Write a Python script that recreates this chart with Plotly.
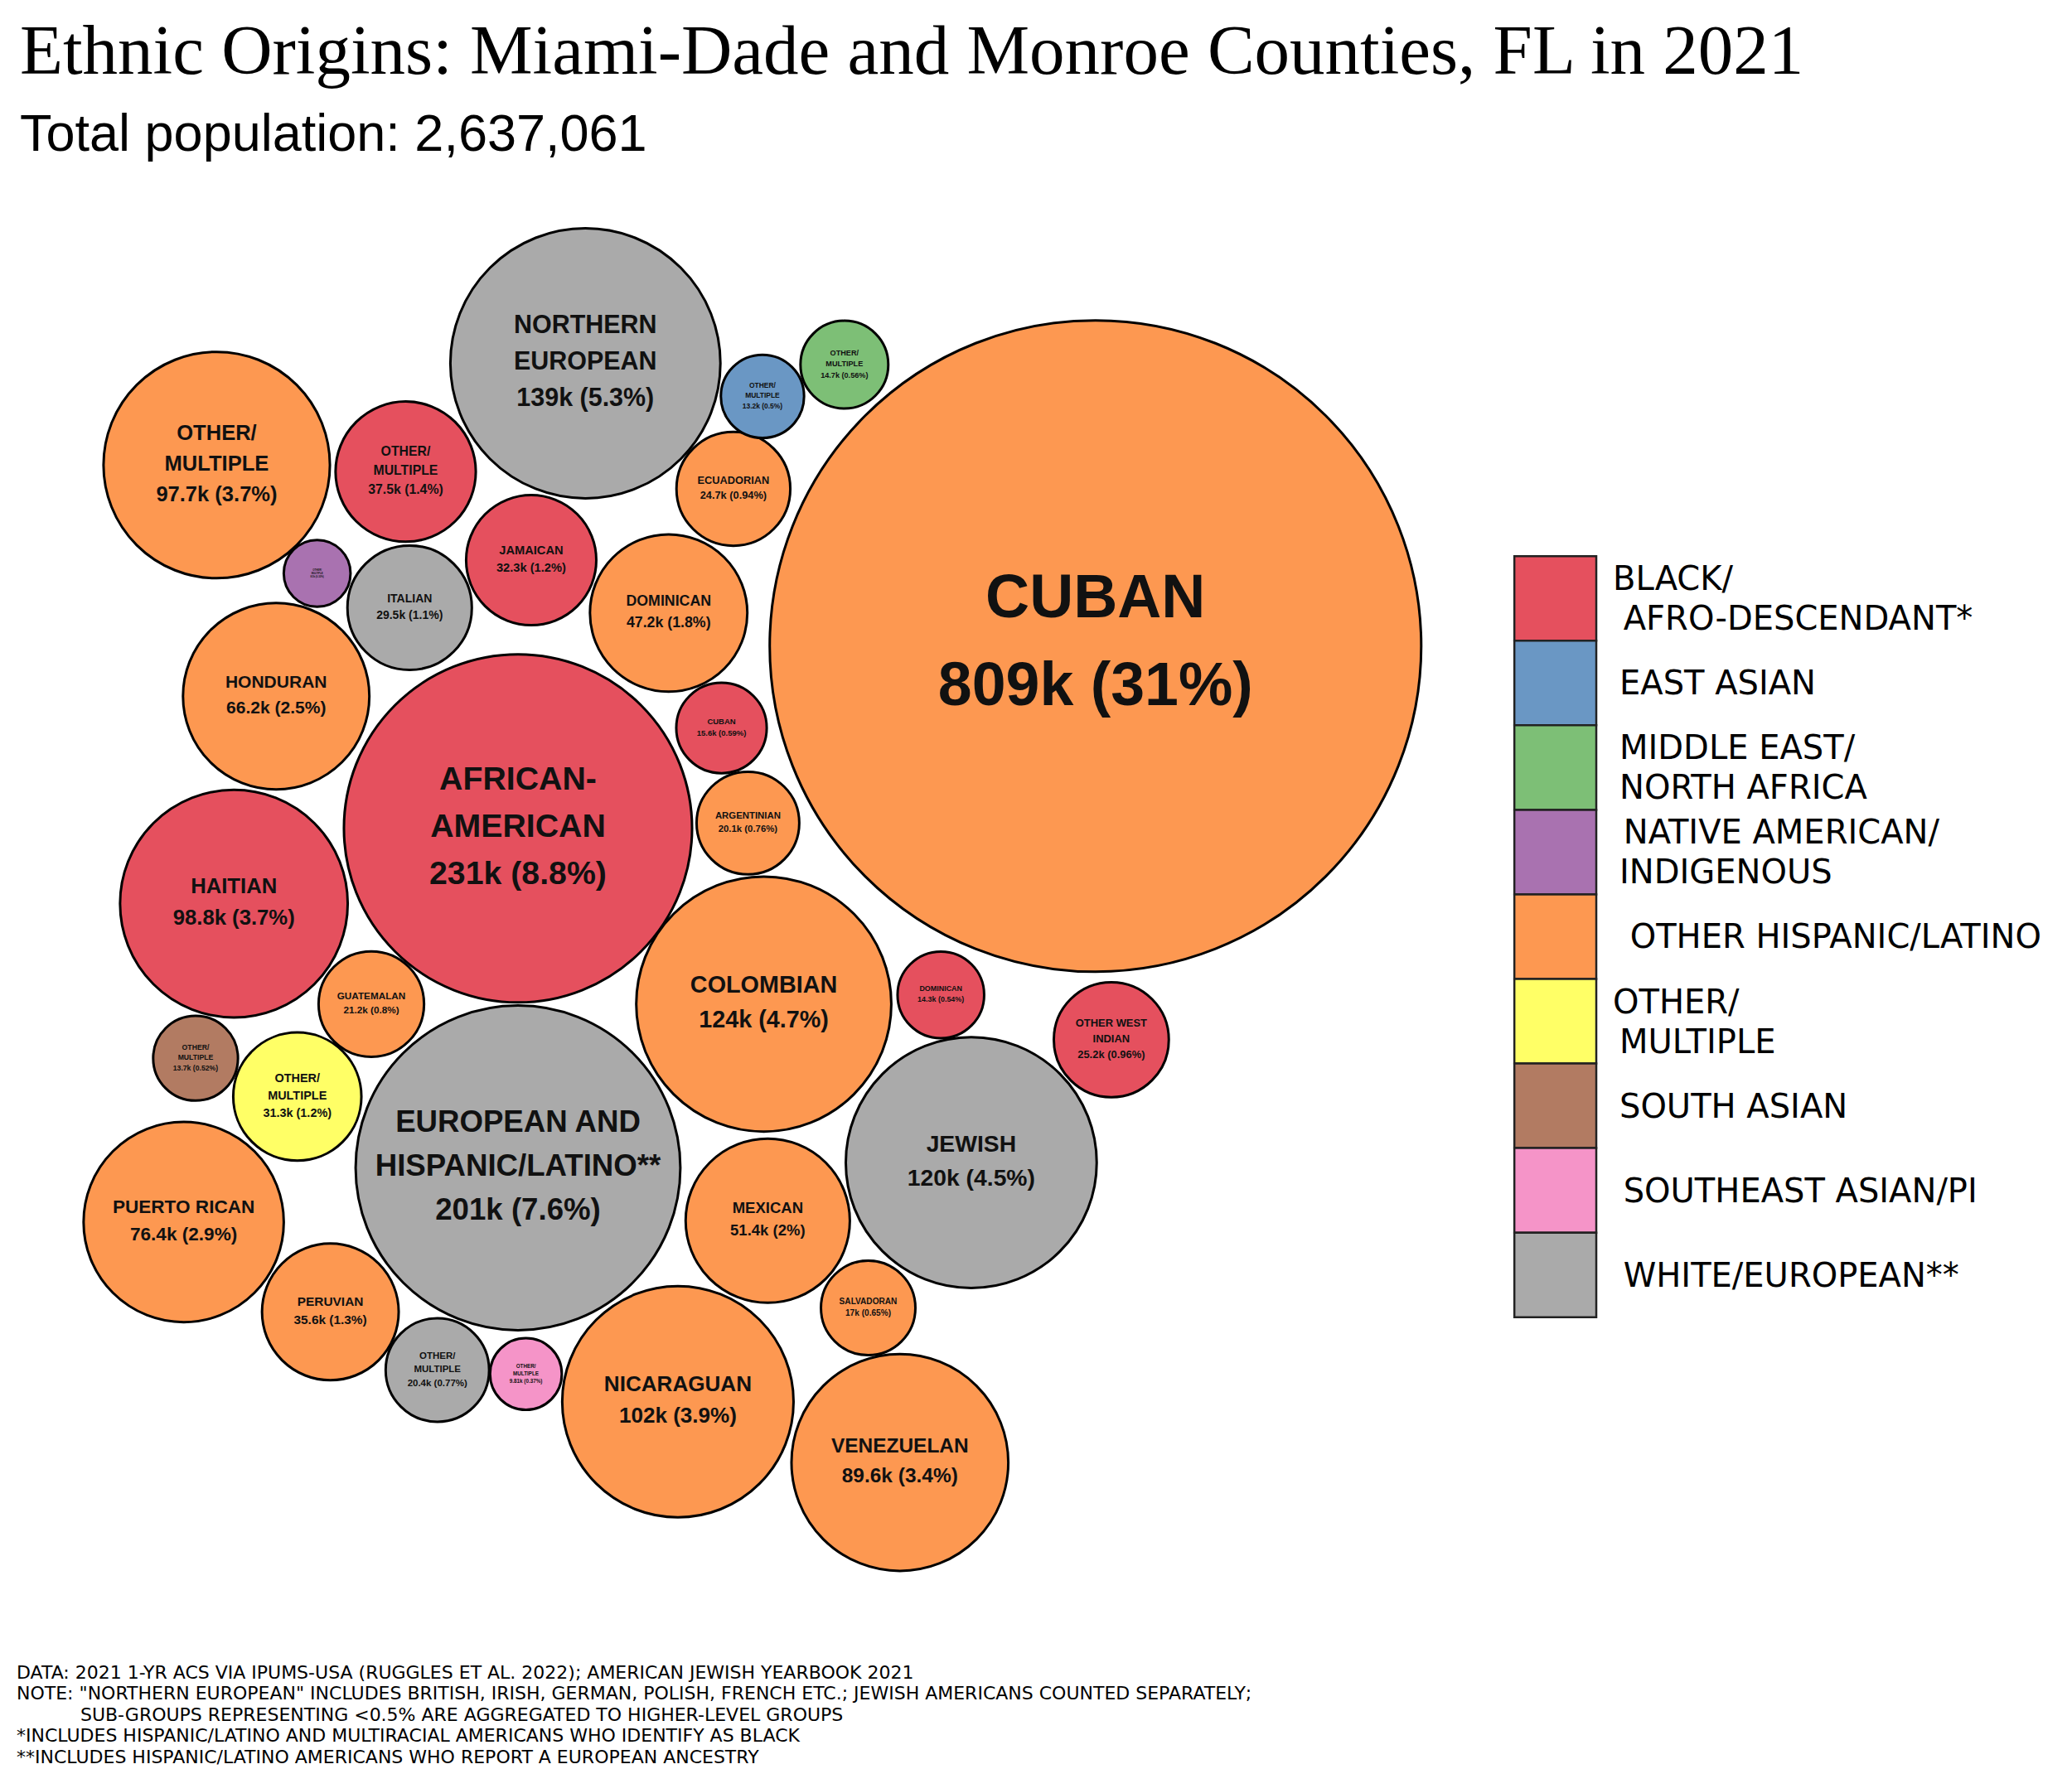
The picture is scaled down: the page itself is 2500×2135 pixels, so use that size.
import numpy as np
import plotly.graph_objects as go

# ---------------- data ----------------
TITLE = "Ethnic Origins: Miami-Dade and Monroe Counties, FL in 2021"
SUBTITLE = "Total population: 2,637,061"
FOOTNOTE_LINES = ["DATA: 2021 1-YR ACS VIA IPUMS-USA (RUGGLES ET AL. 2022); AMERICAN JEWISH YEARBOOK 2021",
                  "NOTE: \"NORTHERN EUROPEAN\" INCLUDES BRITISH, IRISH, GERMAN, POLISH, FRENCH ETC.; JEWISH AMERICANS COUNTED SEPARATELY;",
                  "\u00a0" * 11 + "SUB-GROUPS REPRESENTING &lt;0.5% ARE AGGREGATED TO HIGHER-LEVEL GROUPS",
                  "*INCLUDES HISPANIC/LATINO AND MULTIRACIAL AMERICANS WHO IDENTIFY AS BLACK",
                  "**INCLUDES HISPANIC/LATINO AMERICANS WHO REPORT A EUROPEAN ANCESTRY"]

group_names = ["BLACK/<br>\u00a0AFRO-DESCENDANT*", "\u2009EAST ASIAN", "\u2009MIDDLE EAST/<br>\u2009NORTH AFRICA",
               "\u00a0NATIVE AMERICAN/<br>\u2009INDIGENOUS", "\u00a0\u2009OTHER HISPANIC/LATINO",
               "OTHER/<br>\u2009MULTIPLE", "\u2009SOUTH ASIAN", "\u00a0SOUTHEAST ASIAN/PI", "\u00a0WHITE/EUROPEAN**"]
group_colors = ["#E5505E", "#6A97C4", "#7DBF76", "#A972B0", "#FD9851",
                "#FFFF66", "#B27B62", "#F594C8", "#AAAAAA"]

names = ["CUBAN", "AFRICAN-<br>AMERICAN", "EUROPEAN AND<br>HISPANIC/LATINO**", "NORTHERN<br>EUROPEAN",
         "COLOMBIAN", "JEWISH", "NICARAGUAN", "HAITIAN", "OTHER/<br>MULTIPLE", "VENEZUELAN",
         "PUERTO RICAN", "HONDURAN", "MEXICAN", "DOMINICAN", "OTHER/<br>MULTIPLE", "PERUVIAN",
         "JAMAICAN", "OTHER/<br>MULTIPLE", "ITALIAN", "OTHER WEST<br>INDIAN", "ECUADORIAN",
         "GUATEMALAN", "OTHER/<br>MULTIPLE", "ARGENTINIAN", "SALVADORAN", "CUBAN",
         "OTHER/<br>MULTIPLE", "DOMINICAN", "OTHER/<br>MULTIPLE", "OTHER/<br>MULTIPLE",
         "OTHER/<br>MULTIPLE", "OTHER/<br>MULTIPLE"]
group_idx = [4, 0, 8, 8, 4, 8, 4, 0, 4, 4, 4, 4, 4, 4, 0, 4, 0, 5, 8, 0, 4, 4, 8, 4, 4, 0, 2, 0, 6, 1, 7, 3]
values_k = [809, 231, 201, 139, 124, 120, 102, 98.8, 97.7, 89.6, 76.4, 66.2, 51.4, 47.2, 37.5, 35.6,
            32.3, 31.3, 29.5, 25.2, 24.7, 21.2, 20.4, 20.1, 17, 15.6, 14.7, 14.3, 13.7, 13.2, 9.81, 8.5]
pct = [31, 8.8, 7.6, 5.3, 4.7, 4.5, 3.9, 3.7, 3.7, 3.4, 2.9, 2.5, 2, 1.8, 1.4, 1.3, 1.2, 1.2, 1.1,
       0.96, 0.94, 0.8, 0.77, 0.76, 0.65, 0.59, 0.56, 0.54, 0.52, 0.5, 0.37, 0.32]
# packing layout (centre coordinates, layout units)
pack_x = [829, 392, 392, 443, 578, 735, 513, 177, 164, 681, 139, 209, 581, 506, 307, 250,
          402, 225, 310, 841, 555, 281, 331, 566, 657, 546, 639, 712, 148, 577, 398, 240]
pack_y = [489, 627, 884, 275, 760, 880, 1061, 684, 352, 1107, 925, 527, 924, 464, 357, 993,
          424, 830, 460, 787, 370, 760, 1037, 623, 990, 551, 276, 753, 801, 300, 1040, 434]

# ---------------- scales / styles ----------------
W, H = 2500, 2135
XR, YR = 1568, 1339            # layout extent
PX = W / XR                    # screen px per layout unit
R_SCALE = 8.667                # layout units per sqrt(thousand people)
LINE_SP = 1.45

def font_for_radius(r_px):
    ratio = np.interp(r_px, [40, 41.5, 43, 50, 55, 62, 70], [0.07, 0.075, 0.145, 0.168, 0.175, 0.184, 0.187])
    return float(ratio * r_px)

shapes = []
tx, ty, tt, ts = [], [], [], []
for i in range(len(values_k)):
    r = R_SCALE * np.sqrt(values_k[i])
    cx, cy = pack_x[i], pack_y[i]
    shapes.append(dict(type="circle", xref="x", yref="y", x0=cx - r, x1=cx + r, y0=cy - r, y1=cy + r,
                       fillcolor=group_colors[group_idx[i]], line=dict(color="black", width=3), layer="below"))
    lines = names[i].split("<br>") + [f"{values_k[i]:.3g}k ({pct[i]:g}%)"]
    fs = font_for_radius(r * PX)
    n = len(lines)
    for j, ln in enumerate(lines):
        tx.append(cx)
        ty.append(cy + (j - (n - 1) / 2) * LINE_SP * fs / PX)
        tt.append(ln)
        ts.append(fs)

fig = go.Figure()
fig.add_trace(go.Scatter(x=tx, y=ty, text=tt, mode="text", textposition="middle center",
                         textfont=dict(size=ts, color="#111111", family="Liberation Sans", weight="bold"),
                         hoverinfo="skip", showlegend=False))

annotations = []
# legend
LEG_X0, LEG_X1, LEG_Y0, LEG_H = 1146, 1208, 421, 64
LEG_TX = 1219
for k, g in enumerate(group_names):
    y0 = LEG_Y0 + k * LEG_H
    shapes.append(dict(type="rect", xref="x", yref="y", x0=LEG_X0, x1=LEG_X1, y0=y0, y1=y0 + LEG_H,
                       fillcolor=group_colors[k], line=dict(color="#222222", width=2.5), layer="below"))
    lines = g.split("<br>")
    n = len(lines)
    for j, ln in enumerate(lines):
        annotations.append(dict(x=LEG_TX, y=y0 + LEG_H / 2 + (j - (n - 1) / 2) * 48 / PX, xref="x", yref="y",
                                text=ln, showarrow=False, xanchor="left", yanchor="middle",
                                font=dict(family="DejaVu Sans", size=40, color="black")))

annotations.append(dict(x=22 / W, y=1 - 60 / H, xref="paper", yref="paper", text=TITLE, showarrow=False,
                        xanchor="left", yanchor="middle", font=dict(family="Liberation Serif", size=85, color="black")))
annotations.append(dict(x=22 / W, y=1 - 160 / H, xref="paper", yref="paper", text=SUBTITLE, showarrow=False,
                        xanchor="left", yanchor="middle", font=dict(family="Liberation Sans", size=63, color="black")))
for j, ln in enumerate(FOOTNOTE_LINES):
    annotations.append(dict(x=18 / W, y=1 - (2018 + j * 25.5) / H, xref="paper", yref="paper", text=ln,
                            showarrow=False, xanchor="left", yanchor="middle", align="left",
                            font=dict(family="DejaVu Sans", size=22, color="black")))

fig.update_layout(width=W, height=H, margin=dict(l=0, r=0, t=0, b=0),
                  paper_bgcolor="white", plot_bgcolor="white", showlegend=False,
                  xaxis=dict(range=[0, XR], visible=False, fixedrange=True),
                  yaxis=dict(range=[YR, 0], visible=False, fixedrange=True),
                  shapes=shapes, annotations=annotations)
fig.write_html("out.html")
